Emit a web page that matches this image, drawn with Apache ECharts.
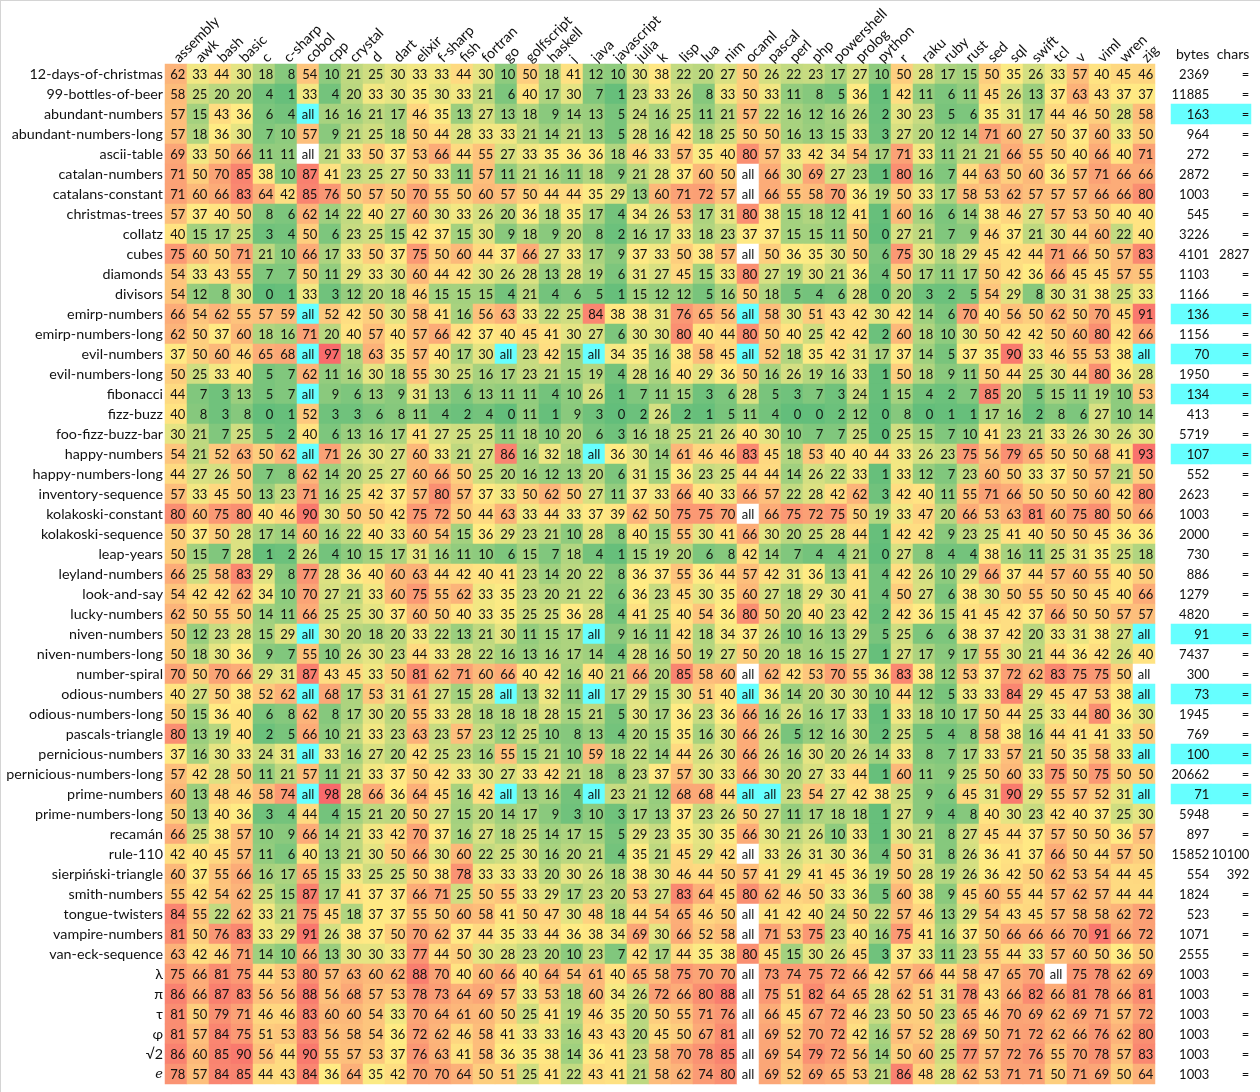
<!DOCTYPE html>
<html>
<head>
<meta charset="utf-8">
<title>Code golf scores</title>
<script src="https://cdn.jsdelivr.net/npm/echarts@6/dist/echarts.min.js"></script>
<style>
  html, body { margin: 0; padding: 0; background: #fff; }
  body { box-shadow: inset 1px 1px 0 #d4d4d4; width: 1260px; height: 1092px; }
  #chart { width: 1260px; height: 1092px; }
</style>
</head>
<body>
<div id="chart"></div>
<script>
const languages = ['assembly','awk','bash','basic','c','c-sharp','cobol','cpp','crystal','d','dart','elixir','f-sharp','fish','fortran','go','golfscript','haskell','j','java','javascript','julia','k','lisp','lua','nim','ocaml','pascal','perl','php','powershell','prolog','python','r','raku','ruby','rust','sed','sql','swift','tcl','v','viml','wren','zig']

const holes = ['12-days-of-christmas','99-bottles-of-beer','abundant-numbers','abundant-numbers-long','ascii-table','catalan-numbers','catalans-constant','christmas-trees','collatz','cubes','diamonds','divisors','emirp-numbers','emirp-numbers-long','evil-numbers','evil-numbers-long','fibonacci','fizz-buzz','foo-fizz-buzz-bar','happy-numbers','happy-numbers-long','inventory-sequence','kolakoski-constant','kolakoski-sequence','leap-years','leyland-numbers','look-and-say','lucky-numbers','niven-numbers','niven-numbers-long','number-spiral','odious-numbers','odious-numbers-long','pascals-triangle','pernicious-numbers','pernicious-numbers-long','prime-numbers','prime-numbers-long','recamán','rule-110','sierpiński-triangle','smith-numbers','tongue-twisters','vampire-numbers','van-eck-sequence','λ','π','τ','φ','√2','e']

const A = 'all'
const scores = [
  [62,33,44,30,18,8,54,10,21,25,30,33,33,44,30,10,50,18,41,12,10,30,38,22,20,27,50,26,22,23,17,27,10,50,28,17,15,50,35,26,33,57,40,45,46],
  [58,25,20,20,4,1,33,4,20,33,30,35,30,33,21,6,40,17,30,7,1,23,33,26,8,33,50,33,11,8,5,36,1,42,11,6,11,45,26,13,37,63,43,37,37],
  [57,15,43,36,6,4,A,16,16,21,17,46,35,13,27,13,18,9,14,13,5,24,16,25,11,21,57,22,16,12,16,26,2,30,23,5,6,35,31,17,44,46,50,28,58],
  [57,18,36,30,7,10,57,9,21,25,18,50,44,28,33,33,21,14,21,13,5,28,16,42,18,25,50,50,16,13,15,33,3,27,20,12,14,71,60,27,50,37,60,33,50],
  [69,33,50,66,11,11,A,21,33,50,37,53,66,44,55,27,33,35,36,36,18,46,33,57,35,40,80,57,33,42,34,54,17,71,33,11,21,21,66,55,50,40,66,40,71],
  [71,50,70,85,38,10,87,41,23,25,27,50,33,11,57,11,21,16,11,18,9,21,28,37,60,50,A,66,30,69,27,23,1,80,16,7,44,63,50,60,36,57,71,66,66],
  [71,60,66,83,64,42,85,76,50,57,50,70,55,50,60,57,50,44,44,35,29,13,60,71,72,57,A,66,55,58,70,36,19,50,33,17,58,53,62,57,57,57,66,66,80],
  [57,37,40,50,8,6,62,14,22,40,27,60,30,33,26,20,36,18,35,17,4,34,26,53,17,31,80,38,15,18,12,41,1,60,16,6,14,38,46,27,57,53,50,40,40],
  [40,15,17,25,3,4,50,6,23,25,15,42,37,15,30,9,18,9,20,8,2,16,17,33,18,23,37,37,15,15,11,50,0,27,21,7,9,46,37,21,30,44,60,22,40],
  [75,60,50,71,21,10,66,17,33,50,37,75,50,60,44,37,66,27,33,17,9,37,33,50,38,57,A,50,36,35,30,50,6,75,30,18,29,45,42,44,71,66,50,57,83],
  [54,33,43,55,7,7,50,11,29,33,30,60,44,42,30,26,28,13,28,19,6,31,27,45,15,33,80,27,19,30,21,36,4,50,17,11,17,50,42,36,66,45,45,57,55],
  [54,12,8,30,0,1,33,3,12,20,18,46,15,15,15,4,21,4,6,5,1,15,12,12,5,16,50,18,5,4,6,28,0,20,3,2,5,54,29,8,30,31,38,25,33],
  [66,54,62,55,57,59,A,52,42,50,30,58,41,16,56,63,33,22,25,84,38,38,31,76,65,56,A,58,30,51,43,42,30,42,14,6,70,40,56,50,62,50,70,45,91],
  [62,50,37,60,18,16,71,20,40,57,40,57,66,42,37,40,45,41,30,27,6,30,30,80,40,44,80,50,40,25,42,42,2,60,18,10,30,50,42,42,50,60,80,42,66],
  [37,50,60,46,65,68,A,97,18,63,35,57,40,17,30,A,23,42,15,A,34,35,16,38,58,45,A,52,18,35,42,31,17,37,14,5,37,35,90,33,46,55,53,38,A],
  [50,25,33,40,5,7,62,11,16,30,18,55,30,25,16,17,23,21,15,19,4,28,16,40,29,36,50,16,26,19,16,33,1,50,18,9,11,50,44,25,30,44,80,36,28],
  [44,7,3,13,5,7,A,9,6,13,9,31,13,6,13,11,11,4,10,26,1,7,11,15,3,6,28,5,3,7,3,24,1,15,4,2,7,85,20,5,15,11,19,10,53],
  [40,8,3,8,0,1,52,3,3,6,8,11,4,2,4,0,11,1,9,3,0,2,26,2,1,5,11,4,0,0,2,12,0,8,0,1,1,17,16,2,8,6,27,10,14],
  [30,21,7,25,5,2,40,6,13,16,17,41,27,25,25,11,18,10,20,6,3,16,18,25,21,26,40,30,10,7,7,25,0,25,15,7,10,41,23,21,33,26,30,26,30],
  [54,21,52,63,50,62,A,71,26,30,27,60,33,21,27,86,16,32,18,A,36,30,14,61,46,46,83,45,18,53,40,40,44,33,26,23,75,56,79,65,50,50,68,41,93],
  [44,27,26,50,7,8,62,14,20,25,27,60,66,50,25,20,16,12,13,20,6,31,15,36,23,25,44,44,14,26,22,33,1,33,12,7,23,60,50,33,37,50,57,21,50],
  [57,33,45,50,13,23,71,16,25,42,37,57,80,57,37,33,50,62,50,27,11,37,33,66,40,33,66,57,22,28,42,62,3,42,40,11,55,71,66,50,50,50,60,42,80],
  [80,60,75,80,40,46,90,30,50,50,42,75,72,50,44,63,33,44,33,37,39,62,50,75,75,70,A,66,75,72,75,50,19,33,47,20,66,53,63,81,60,75,80,50,66],
  [50,37,50,28,17,14,60,16,22,40,33,60,54,15,36,29,23,21,10,28,8,40,15,55,30,41,66,30,20,25,28,44,1,42,42,9,23,25,41,40,50,50,45,36,36],
  [50,15,7,28,1,2,26,4,10,15,17,31,16,11,10,6,15,7,18,4,1,15,19,20,6,8,42,14,7,4,4,21,0,27,8,4,4,38,16,11,25,31,35,25,18],
  [66,25,58,83,29,8,77,28,36,40,60,63,44,42,40,41,23,14,20,22,8,36,37,55,36,44,57,42,31,36,13,41,4,42,26,10,29,66,37,44,57,60,55,40,50],
  [54,42,42,62,34,10,70,27,21,33,60,75,55,62,33,35,23,20,21,22,6,36,23,45,30,35,60,27,18,29,30,41,4,50,27,6,38,30,50,55,50,50,45,40,66],
  [62,50,55,50,14,11,66,25,25,30,37,60,50,40,33,35,25,25,36,28,4,41,25,40,54,36,80,50,20,40,23,42,2,42,36,15,41,45,42,37,66,50,50,57,57],
  [50,12,23,28,15,29,A,30,20,18,20,33,22,13,21,30,11,15,17,A,9,16,11,42,18,34,37,26,10,16,13,29,5,25,6,6,38,37,42,20,33,31,38,27,A],
  [50,18,30,36,9,7,55,10,26,30,23,44,33,28,22,16,13,16,17,14,4,28,16,50,19,27,50,20,18,16,15,27,1,27,17,9,17,55,30,21,44,36,42,26,40],
  [70,50,70,66,29,31,87,43,45,33,50,81,62,71,60,66,40,42,16,40,21,66,20,85,58,60,A,62,42,53,70,55,36,83,38,12,53,37,72,62,83,75,75,50,A],
  [40,27,50,38,52,62,A,68,17,53,31,61,27,15,28,A,13,32,11,A,17,29,15,30,51,40,A,36,14,20,30,30,10,44,12,5,33,33,84,29,45,47,53,38,A],
  [50,15,36,40,6,8,62,8,17,30,20,55,33,28,18,18,18,28,15,21,5,30,17,36,23,36,66,16,26,16,17,33,1,33,18,10,17,50,44,25,33,44,80,36,30],
  [80,13,19,40,2,5,66,10,21,33,23,63,23,57,23,12,25,10,8,13,4,20,15,35,16,30,66,26,5,12,16,30,2,25,5,4,8,58,38,16,44,41,41,33,50],
  [37,16,30,33,24,31,A,33,16,27,20,42,25,23,16,55,15,21,10,59,18,22,14,44,26,30,66,26,16,30,20,26,14,33,8,7,17,33,57,21,50,35,58,33,A],
  [57,42,28,50,11,21,57,11,21,33,37,50,42,33,30,27,33,42,21,18,8,23,37,57,30,33,66,30,20,27,33,44,1,60,11,9,25,50,60,33,75,50,75,50,50],
  [60,13,48,46,58,74,A,98,28,66,36,64,45,16,42,A,13,16,4,A,23,21,12,68,68,44,A,A,23,54,27,42,38,25,9,6,45,31,90,29,55,57,52,31,A],
  [50,13,40,36,3,4,44,4,15,21,20,50,27,15,20,14,17,9,3,10,3,17,13,37,23,26,50,27,11,17,18,18,1,27,9,4,8,40,30,23,42,40,37,25,30],
  [66,25,38,57,10,9,66,14,21,33,42,70,37,16,27,18,25,14,17,15,5,29,23,35,30,35,66,30,21,26,10,33,1,30,21,8,27,45,44,37,57,50,50,36,57],
  [42,40,45,57,11,6,40,13,21,30,50,66,30,60,22,25,30,16,20,21,4,35,21,45,29,42,A,33,26,31,30,36,4,50,31,8,26,36,41,37,66,50,44,57,50],
  [60,37,55,66,16,17,65,15,33,25,25,50,38,78,33,33,33,20,30,26,18,38,30,46,44,50,57,41,29,41,45,36,19,50,28,19,26,36,42,50,62,53,54,44,45],
  [55,42,54,62,25,15,87,17,41,37,37,66,71,25,50,55,33,29,17,23,20,53,27,83,64,45,80,62,46,50,33,36,5,60,38,9,45,60,55,44,57,62,57,44,44],
  [84,55,22,62,33,21,75,45,18,37,37,55,50,60,58,41,50,47,30,48,18,44,54,65,46,50,A,41,42,40,24,50,22,57,46,13,29,54,43,45,57,58,58,62,72],
  [81,50,76,83,33,29,91,26,38,37,50,70,62,37,44,35,33,44,36,38,34,69,30,66,52,58,A,71,53,75,23,40,16,75,41,16,37,50,66,66,66,70,91,66,72],
  [63,42,46,71,14,10,66,13,30,30,33,77,44,50,30,28,23,20,10,23,7,42,17,44,35,38,80,45,15,30,26,45,3,37,33,11,23,55,44,33,57,60,50,36,50],
  [75,66,81,75,44,53,80,57,63,60,62,88,70,40,60,66,40,64,54,61,40,65,58,75,70,70,A,73,74,75,72,66,42,57,66,44,58,47,65,70,A,75,78,62,69],
  [86,66,87,83,56,56,88,56,68,57,53,78,73,64,69,57,33,53,18,60,34,26,72,66,80,88,A,75,51,82,64,65,28,62,51,31,78,43,66,82,66,81,78,66,81],
  [81,50,79,71,46,46,83,60,60,54,33,70,64,61,60,50,25,41,19,46,35,20,50,55,71,76,A,66,45,67,72,46,23,50,50,23,65,46,70,69,62,69,71,57,72],
  [81,57,84,75,51,53,83,56,58,54,36,72,62,46,58,41,33,33,16,43,43,20,45,50,67,81,A,69,52,70,72,42,16,57,52,28,69,50,71,72,62,66,76,62,80],
  [86,60,85,90,56,44,90,55,57,53,37,76,63,41,58,36,35,38,14,36,41,23,58,70,78,85,A,69,54,79,72,56,14,50,60,25,77,57,72,76,55,70,78,57,83],
  [78,57,84,85,44,43,84,36,64,35,42,70,70,64,50,51,25,41,22,43,41,21,58,62,74,80,A,69,52,69,65,53,21,86,48,28,62,53,71,71,50,71,69,50,64]
]

const bytes = [2369,11885,163,964,272,2872,1003,545,3226,4101,1103,1166,136,1156,70,1950,134,413,5719,107,552,2623,1003,2000,730,886,1279,4820,91,7437,300,73,1945,769,100,20662,71,5948,897,15852,554,1824,523,1071,2555,1003,1003,1003,1003,1003,1003]
const chars = ['=','=','=','=','=','=','=','=','=',2827,'=','=','=','=','=','=','=','=','=','=','=','=','=','=','=','=','=','=','=','=','=','=','=','=','=','=','=','=','=',10100,392,'=','=','=','=','=','=','=','=','=','=']
const highlighted = ['abundant-numbers','emirp-numbers','evil-numbers','fibonacci','happy-numbers','niven-numbers','odious-numbers','pernicious-numbers','prime-numbers']

const FONT = 'Lato'
const FONT_SIZE = 13
const INK = '#111'
const CYAN = '#66ffff'

// excel style 3 colour scale, the midpoint sits at the median not halfway
const LOW = [99, 190, 123]
const MID = [255, 235, 132]
const HIGH = [248, 105, 107]
const MID_VALUE = 36
const MAX_VALUE = 98

function mix(a, b, t) {
  return 'rgb(' + a.map((c, i) => Math.round(c + (b[i] - c) * t)).join(',') + ')'
}

function scoreColor(v) {
  if (v <= MID_VALUE) return mix(LOW, MID, v / MID_VALUE)
  return mix(MID, HIGH, (v - MID_VALUE) / (MAX_VALUE - MID_VALUE))
}

// heatmap drops cells whose value is not a number, so text cells carry it in name
const cells = []
scores.forEach((row, y) => {
  const rowColor = highlighted.includes(holes[y]) ? CYAN : '#fff'
  row.forEach((v, x) => {
    const isAll = v === A
    cells.push({
      name: String(v),
      value: [x, y, isAll ? 0 : v],
      itemStyle: { color: isAll ? rowColor : scoreColor(v) },
      label: { position: isAll ? 'inside' : 'insideRight', distance: 2 }
    })
  })
})

// first row of the side table holds the column headers
const sideRows = ['header'].concat(holes)
const sideColumns = ['bytes', 'chars']
const sideCells = sideColumns.map((name, x) => ({
  name,
  value: [x, 0, 0],
  itemStyle: { color: 'transparent' },
  label: { fontSize: 14, offset: [0, 0] }
}))
holes.forEach((hole, y) => {
  const color = highlighted.includes(hole) ? CYAN : 'transparent'
  sideCells.push({ name: String(bytes[y]), value: [0, y + 1, 0], itemStyle: { color } })
  sideCells.push({ name: String(chars[y]), value: [1, y + 1, 0], itemStyle: { color } })
})

const cellLabel = {
  show: true,
  color: INK,
  fontFamily: FONT,
  fontSize: FONT_SIZE,
  offset: [0, 1],
  formatter: p => p.name
}

const chart = echarts.init(document.getElementById('chart'), null, { renderer: 'canvas' })
chart.setOption({
  animation: false,
  textStyle: { fontFamily: FONT },
  grid: [
    { left: 165, top: 64, width: 990, height: 1020 },
    { left: 1171, top: 44, width: 80, height: 1040 }
  ],
  xAxis: [
    {
      type: 'category',
      position: 'top',
      data: languages,
      axisLine: { show: false },
      axisTick: { show: false },
      splitLine: { show: false },
      axisLabel: { interval: 0, rotate: -45, margin: 4, color: INK, fontFamily: FONT, fontSize: 14.4 }
    },
    {
      gridIndex: 1,
      type: 'category',
      data: sideColumns,
      axisLine: { show: false },
      axisTick: { show: false },
      axisLabel: { show: false }
    }
  ],
  yAxis: [
    {
      type: 'category',
      inverse: true,
      data: holes,
      axisLine: { show: false },
      axisTick: { show: false },
      splitLine: { show: false },
      axisLabel: {
        interval: 0,
        margin: 2,
        padding: [1, 0, 0, 0],
        color: INK,
        fontFamily: FONT,
        fontSize: 14.3,
        formatter: v => (v === 'e' ? '{em|e}' : v),
        rich: { em: { fontStyle: 'italic', fontFamily: 'DejaVu Serif', fontSize: 13, color: INK } }
      }
    },
    {
      gridIndex: 1,
      type: 'category',
      inverse: true,
      data: sideRows,
      axisLine: { show: false },
      axisTick: { show: false },
      axisLabel: { show: false }
    }
  ],
  series: [
    {
      type: 'heatmap',
      progressive: 0,
      data: cells,
      label: cellLabel,
      emphasis: { disabled: true }
    },
    {
      type: 'heatmap',
      xAxisIndex: 1,
      yAxisIndex: 1,
      progressive: 0,
      data: sideCells,
      label: Object.assign({}, cellLabel, { position: 'insideRight', distance: 2 }),
      emphasis: { disabled: true }
    }
  ]
})

window.addEventListener('resize', () => chart.resize())
</script>
</body>
</html>
